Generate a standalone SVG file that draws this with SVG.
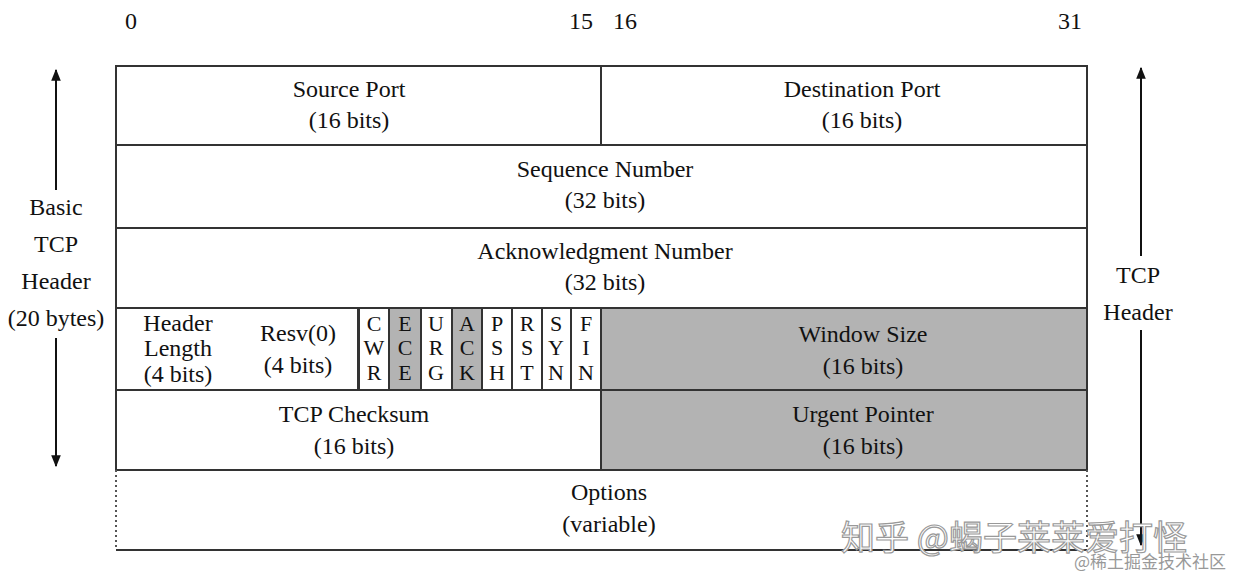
<svg xmlns="http://www.w3.org/2000/svg" width="1248" height="586" viewBox="0 0 1248 586">
<style>
text{font-family:"Liberation Serif",serif;font-size:24px;fill:#111;text-anchor:middle}
.f text{font-size:22px}
.c{fill:#fff;stroke:#333;stroke-width:2}
.g{fill:#b3b3b3;stroke:#333;stroke-width:2}
.a{stroke:#111;stroke-width:2;fill:none}
.wm{font-family:"Noto Sans CJK SC",sans-serif;font-size:34px;fill:#fff;stroke:#999;stroke-width:1.2}
.wm2{font-family:"Noto Sans CJK SC",sans-serif;font-size:17px;fill:#999}
</style>
<defs><marker id="ah" viewBox="0 0 10 10" refX="9" refY="5" markerWidth="6" markerHeight="8" orient="auto-start-reverse"><path d="M0,1 L10,5 L0,9 z" fill="#111"/></marker></defs>
<rect width="1248" height="586" fill="#fff"/>
<g id="bits"><text x="131" y="29">0</text><text x="581" y="29">15</text><text x="625" y="29">16</text><text x="1070" y="29">31</text></g>
<g id="src"><rect class="c" x="116" y="66" width="485" height="79"/><text x="349" y="97">Source Port</text><text x="349" y="128">(16 bits)</text></g>
<g id="dst"><rect class="c" x="601" y="66" width="486" height="79"/><text x="862" y="97">Destination Port</text><text x="862" y="128">(16 bits)</text></g>
<g id="seq"><rect class="c" x="116" y="145" width="971" height="83"/><text x="605" y="177">Sequence Number</text><text x="605" y="208">(32 bits)</text></g>
<g id="ack"><rect class="c" x="116" y="228" width="971" height="80"/><text x="605" y="259">Acknowledgment Number</text><text x="605" y="290">(32 bits)</text></g>
<g id="hl"><rect class="c" x="116" y="308" width="242" height="82"/><text x="178" y="331">Header</text><text x="178" y="356">Length</text><text x="178" y="382">(4 bits)</text><text x="298" y="341">Resv(0)</text><text x="298" y="373">(4 bits)</text></g>
<g id="flags" class="f">
<rect class="c" x="359" y="308" width="30" height="82"/><rect class="g" x="389" y="308" width="32" height="82"/><rect class="c" x="421" y="308" width="31" height="82"/><rect class="g" x="452" y="308" width="30" height="82"/><rect class="c" x="482" y="308" width="30" height="82"/><rect class="c" x="512" y="308" width="30" height="82"/><rect class="c" x="542" y="308" width="29" height="82"/><rect class="c" x="571" y="308" width="30" height="82"/>
<text x="374" y="331">C</text><text x="374" y="355">W</text><text x="374" y="380">R</text>
<text x="405" y="331">E</text><text x="405" y="355">C</text><text x="405" y="380">E</text>
<text x="436" y="331">U</text><text x="436" y="355">R</text><text x="436" y="380">G</text>
<text x="467" y="331">A</text><text x="467" y="355">C</text><text x="467" y="380">K</text>
<text x="497" y="331">P</text><text x="497" y="355">S</text><text x="497" y="380">H</text>
<text x="527" y="331">R</text><text x="527" y="355">S</text><text x="527" y="380">T</text>
<text x="556" y="331">S</text><text x="556" y="355">Y</text><text x="556" y="380">N</text>
<text x="586" y="331">F</text><text x="586" y="355">I</text><text x="586" y="380">N</text></g>
<g id="win"><rect class="g" x="601" y="308" width="486" height="82"/><text x="863" y="342">Window Size</text><text x="863" y="374">(16 bits)</text></g>
<g id="cks"><rect class="c" x="116" y="390" width="485" height="80"/><text x="354" y="422">TCP Checksum</text><text x="354" y="454">(16 bits)</text></g>
<g id="urg"><rect class="g" x="601" y="390" width="486" height="80"/><text x="863" y="422">Urgent Pointer</text><text x="863" y="454">(16 bits)</text></g>
<g id="opt"><path d="M116,470 V550 M1087,470 V550" stroke="#555" stroke-width="2" stroke-dasharray="2,3"/><path d="M116,550 H1087" stroke="#333" stroke-width="2"/><text x="609" y="500">Options</text><text x="609" y="532">(variable)</text></g>
<g id="connectors"><path class="a" d="M56,190 V70" marker-end="url(#ah)"/><path class="a" d="M56,338 V466" marker-end="url(#ah)"/><path class="a" d="M1141,256 V68" marker-end="url(#ah)"/><path class="a" d="M1141,330 V545" marker-end="url(#ah)"/></g>
<g id="lbl-basic"><text x="56" y="215">Basic</text><text x="56" y="252">TCP</text><text x="56" y="289">Header</text><text x="56" y="326">(20 bytes)</text></g>
<g id="lbl-tcp"><text x="1138" y="283">TCP</text><text x="1138" y="320">Header</text></g>
<g id="wm"><text class="wm" x="1014" y="550">知乎 @蝎子莱莱爱打怪</text><text class="wm2" x="1150" y="568">@稀土掘金技术社区</text></g>
</svg>
